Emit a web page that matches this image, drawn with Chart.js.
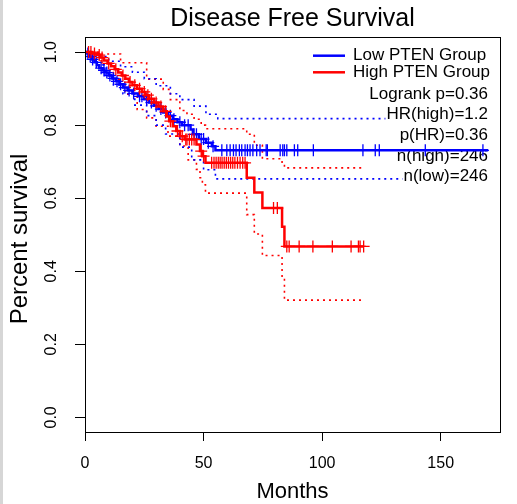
<!DOCTYPE html>
<html>
<head>
<meta charset="utf-8">
<script src="https://cdn.jsdelivr.net/npm/chart.js@4.4.1/dist/chart.umd.min.js"></script>
<style>
  html, body { margin: 0; padding: 0; background: #fff; }
  #wrap { position: relative; width: 517px; height: 504px; }
  #edge { position: absolute; left: 0; top: 0; width: 3px; height: 504px; background: #d6d6d6; }
</style>
</head>
<body>
<div id="wrap">
  <canvas id="kmChart" width="517" height="504"></canvas>
  <div id="edge"></div>
</div>
<script>
const xTicks = [0, 50, 100, 150];
const yTicks = [0, 0.2, 0.4, 0.6, 0.8, 1.0];
const yTickLabels = ["0.0", "0.2", "0.4", "0.6", "0.8", "1.0"];

const legendLabels = ["Low PTEN Group", "High PTEN Group"];
const statLabels = ["Logrank p=0.36", "HR(high)=1.2", "p(HR)=0.36", "n(high)=246", "n(low)=246"];

// Low PTEN group (blue): KM steps
const lowTimes = [0, 1, 2, 3, 4, 5, 6, 7.5, 8.5, 10, 11.5, 13, 14.5, 16, 18, 20, 22.5, 25, 27, 29, 31, 33, 35, 37, 39, 41, 44.5, 45.5, 48, 51, 53.5, 55];
const lowSurv = [1, 0.996, 0.988, 0.98, 0.972, 0.964, 0.956, 0.95, 0.944, 0.936, 0.928, 0.92, 0.912, 0.903, 0.895, 0.887, 0.879, 0.871, 0.862, 0.853, 0.844, 0.835, 0.826, 0.816, 0.808, 0.8, 0.788, 0.775, 0.762, 0.752, 0.742, 0.731];
const lowEnd = 170;
const lowCensor = [1.2, 2.2, 3.2, 4.8, 6.8, 8, 9.2, 10.5, 12, 13.5, 15, 16.8, 18.6, 20.5, 23, 24, 26, 28, 30, 32, 34, 36, 37.5, 40, 42, 43.5, 46, 47, 49, 50, 52, 54,
  57.7, 59.8, 61.2, 62.6, 63.7, 65.1, 66.1, 67.5, 68.5, 69.6, 70.8, 72.4, 73.8, 76.4, 76.9, 82.3, 83.4, 84.1, 85.1, 88.3, 89.7, 96.3, 117.2, 122.4, 124.1, 143.5, 167.8];
const lowUpperTimes = [0, 3, 6, 10, 15, 20, 25, 30, 36, 40, 46, 51, 56];
const lowUpperSurv = [1, 0.995, 0.988, 0.975, 0.96, 0.945, 0.927, 0.908, 0.886, 0.87, 0.852, 0.83, 0.818];
const lowLowerTimes = [0, 2, 4, 8, 12, 16, 21, 26, 30, 34, 40, 45, 50, 55];
const lowLowerSurv = [1, 0.985, 0.965, 0.937, 0.91, 0.886, 0.855, 0.826, 0.8, 0.776, 0.74, 0.705, 0.678, 0.653];

// High PTEN group (red): KM steps
const highTimes = [0, 3, 5, 6.5, 8, 9.5, 11, 12.5, 14, 15.5, 17, 18.5, 20, 22, 24, 25.5, 27, 29, 31, 33, 34.5, 35.5, 37, 38.5, 40, 42, 47, 48.5, 49.5, 50.8, 68.2, 71.4, 74.8, 83.1, 84.1];
const highSurv = [1, 0.996, 0.992, 0.985, 0.977, 0.969, 0.961, 0.953, 0.944, 0.936, 0.927, 0.918, 0.909, 0.9, 0.891, 0.882, 0.872, 0.862, 0.851, 0.838, 0.824, 0.811, 0.797, 0.784, 0.77, 0.761, 0.747, 0.729, 0.715, 0.697, 0.656, 0.616, 0.573, 0.522, 0.468];
const highEnd = 117.5;
const highCensor = [1.5, 2.5, 4, 6, 7.2, 10, 13, 16, 19, 21, 23, 25, 26.5, 28, 30, 32, 34, 36, 39, 41, 42.5, 43, 44, 45, 46, 49, 50,
  53.4, 54.4, 55.3, 56.2, 57, 57.8, 58.7, 59.6, 60.5, 61.4, 62.3, 63.2, 64.3, 65.4, 66.5, 67.5, 79.5, 81.1, 85.1, 86.1, 90.3, 96.1, 104.3, 112.2, 115.3, 116, 117.5];
const highUpperTimes = [0, 6, 15, 26, 33, 36, 40, 43, 46, 49, 50.8, 68.2, 71.4, 74.8, 83.1, 84.1];
const highUpperSurv = [1, 0.995, 0.971, 0.926, 0.898, 0.87, 0.84, 0.83, 0.816, 0.8, 0.79, 0.775, 0.745, 0.708, 0.695, 0.683];
const highLowerTimes = [0, 3.5, 8, 12, 17, 22, 26, 30, 35, 40, 43.5, 47, 48.5, 49.5, 50.8, 68.2, 71.4, 74.8, 83.1, 84.1];
const highLowerSurv = [1, 0.976, 0.95, 0.926, 0.885, 0.843, 0.82, 0.797, 0.77, 0.743, 0.705, 0.679, 0.656, 0.637, 0.614, 0.555, 0.502, 0.443, 0.38, 0.321];

const FONT = "'Liberation Sans', Arial, Helvetica, sans-serif";
const BLUE = "#0000FF";
const RED = "#FF0000";

function survAt(times, surv, t) {
  let s = surv[0];
  for (let i = 0; i < times.length; i++) {
    if (times[i] <= t) s = surv[i];
  }
  return s;
}
function stepPoints(times, surv, end) {
  const pts = times.map((t, i) => ({ x: t, y: surv[i] }));
  pts.push({ x: end, y: surv[surv.length - 1] });
  return pts;
}
function censorPoints(censor, times, surv) {
  return censor.map((t) => ({ x: t, y: survAt(times, surv, t) }));
}

function kmLine(label, data, color) {
  return { label, data, borderColor: color, borderWidth: 2.5, stepped: true, pointRadius: 0, fill: false, borderCapStyle: "butt" };
}
function ciLine(label, data, color) {
  return { label, data, borderColor: color, borderWidth: 1.6, borderDash: [2, 4], stepped: true, pointRadius: 0, fill: false };
}
function censorMarks(label, data, color) {
  return { label, data, showLine: false, pointStyle: "cross", pointRadius: 6, pointHoverRadius: 6, borderColor: color, borderWidth: 1.3 };
}

function crisp(v) {
  return Math.round(v + 0.5) - 0.5;
}

const annotations = {
  id: "annotations",
  afterDatasetDraw(chart, args) {
    // drawn after the dotted bands, before the solid curves
    if (args.index !== 4) return;
    const ctx = chart.ctx;
    ctx.save();
    ctx.font = "17px " + FONT;
    ctx.textBaseline = "middle";
    ctx.textAlign = "left";
    const legendColors = [BLUE, RED];
    legendLabels.forEach((lab, i) => {
      const y = 55.7 + i * 16.6;
      ctx.strokeStyle = legendColors[i];
      ctx.lineWidth = 2.5;
      ctx.beginPath();
      ctx.moveTo(313, y);
      ctx.lineTo(345, y);
      ctx.stroke();
      ctx.fillStyle = "#000";
      ctx.fillText(lab, 353, y);
    });
    ctx.textAlign = "right";
    statLabels.forEach((lab, i) => {
      const y = 94 + i * 20.7;
      const w = ctx.measureText(lab).width;
      ctx.fillStyle = "#fff";
      ctx.fillRect(488 - w - 1, y - 9, w + 2, 18);
      ctx.fillStyle = "#000";
      ctx.fillText(lab, 488, y);
    });
    ctx.restore();
  },
  afterDraw(chart) {
    const ctx = chart.ctx;
    const a = chart.chartArea;
    ctx.save();
    ctx.strokeStyle = "#000";
    ctx.lineWidth = 1;
    const l = crisp(a.left), r = crisp(a.right), t = crisp(a.top), b = crisp(a.bottom);
    ctx.strokeRect(l, t, r - l, b - t);

    ctx.fillStyle = "#000";
    ctx.textAlign = "center";
    ctx.textBaseline = "middle";
    ctx.font = "25px " + FONT;
    ctx.fillText("Disease Free Survival", (a.left + a.right) / 2, 19.5);

    ctx.save();
    ctx.font = "24px " + FONT;
    ctx.translate(20, 239);
    ctx.rotate(-Math.PI / 2);
    ctx.fillText("Percent survival", 0, 0);
    ctx.restore();

    const ys = chart.scales.y;
    ctx.font = "16px " + FONT;
    yTicks.forEach((v, i) => {
      ctx.save();
      ctx.translate(52, ys.getPixelForValue(v));
      ctx.rotate(-Math.PI / 2);
      ctx.fillText(yTickLabels[i], 0, 0);
      ctx.restore();
    });
    ctx.restore();
  },
};

new Chart(document.getElementById("kmChart").getContext("2d"), {
  type: "line",
  data: {
    datasets: [
      censorMarks("High censored", censorPoints(highCensor, highTimes, highSurv), RED),
      kmLine("High PTEN Group", stepPoints(highTimes, highSurv, highEnd), RED),
      censorMarks("Low censored", censorPoints(lowCensor, lowTimes, lowSurv), BLUE),
      kmLine("Low PTEN Group", stepPoints(lowTimes, lowSurv, lowEnd), BLUE),
      ciLine("Low upper", stepPoints(lowUpperTimes, lowUpperSurv, lowEnd), BLUE),
      ciLine("Low lower", stepPoints(lowLowerTimes, lowLowerSurv, lowEnd), BLUE),
      ciLine("High upper", stepPoints(highUpperTimes, highUpperSurv, highEnd), RED),
      ciLine("High lower", stepPoints(highLowerTimes, highLowerSurv, highEnd), RED),
    ],
  },
  options: {
    responsive: false,
    animation: false,
    events: [],
    layout: { padding: { left: 0, right: 17, top: 37.5, bottom: 0 } },
    plugins: {
      legend: { display: false },
      title: { display: false },
      tooltip: { enabled: false },
    },
    scales: {
      x: {
        type: "linear",
        min: 0,
        max: 175,
        afterBuildTicks: (s) => { s.ticks = xTicks.map((v) => ({ value: v })); },
        afterFit: (s) => { s.height = 72; },
        grid: { display: true, drawOnChartArea: false, drawTicks: true, tickLength: 9, color: "#000", lineWidth: 1 },
        border: { display: false },
        ticks: { color: "#000", font: { family: FONT, size: 16, lineHeight: 1 }, padding: 15, maxRotation: 0, autoSkip: false },
        title: { display: true, text: "Months", color: "#000", font: { family: FONT, size: 22, lineHeight: 1 }, padding: { top: 0, bottom: 1 } },
      },
      y: {
        type: "linear",
        min: -0.04,
        max: 1.04,
        afterBuildTicks: (s) => { s.ticks = yTicks.map((v) => ({ value: v })); },
        afterFit: (s) => { s.width = 85; },
        grid: { display: true, drawOnChartArea: false, drawTicks: true, tickLength: 10, color: "#000", lineWidth: 1 },
        border: { display: false },
        ticks: { display: false },
        title: { display: false },
      },
    },
  },
  plugins: [annotations],
});
</script>
</body>
</html>
